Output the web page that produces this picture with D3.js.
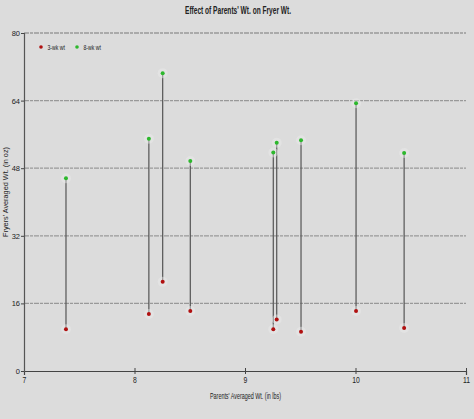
<!DOCTYPE html>
<html><head><meta charset="utf-8">
<script src="https://cdn.jsdelivr.net/npm/d3@7"></script>
<style>
html,body{margin:0;padding:0;background:#dcdcdc;}
svg{display:block;}
text{font-family:"Liberation Sans Narrow","Arial Narrow","Liberation Sans",sans-serif;fill:#222;}
</style></head>
<body>
<script>
const parentWt = [7.38, 8.13, 8.255, 8.505, 9.256, 9.287, 9.507, 10.005, 10.44];
const wk3 = [9.9, 13.5, 21.1, 14.2, 9.9, 12.2, 9.3, 14.2, 10.2];
const wk8 = [45.6, 55.0, 70.5, 49.7, 51.7, 54.0, 54.6, 63.4, 51.6];
const xTicks = [7, 8, 9, 10, 11];
const yTicks = [0, 16, 32, 48, 64, 80];
const seriesNames = ["3-wk wt", "8-wk wt"];
const seriesColors = ["#b01010", "#2db82d"];

const W = 474, H = 419;
const svg = d3.select("body").append("svg").attr("width", W).attr("height", H);
svg.append("rect").attr("width", W).attr("height", H).attr("fill", "#dcdcdc");

const x = d3.scaleLinear().domain([7, 11]).range([24, 466]);
const y = d3.scaleLinear().domain([0, 80]).range([371, 33]);

// gridlines
svg.append("g").selectAll("line").data(yTicks.filter(d => d > 0)).join("line")
  .attr("x1", x(7)).attr("x2", x(11))
  .attr("y1", d => y(d)).attr("y2", d => y(d))
  .attr("stroke", "#999").attr("stroke-width", 1.3).attr("stroke-dasharray", "5,1,3,1");

// axes
const xAxis = svg.append("g").attr("transform", `translate(0,${y(0)})`)
  .call(d3.axisBottom(x).tickValues(xTicks).tickSize(4).tickFormat(d3.format("d")));
xAxis.select(".domain").attr("stroke", "#444").attr("stroke-width", 1.2);
xAxis.selectAll(".tick line").attr("stroke", "#444").attr("y1", -3).attr("y2", 3);
xAxis.selectAll(".tick text").attr("font-size", 8.5).attr("dy", "0.35em").attr("y", 9)
  .attr("fill", "#333").attr("transform", "scale(0.8,1)")
  .style("font-family", '"Liberation Sans",sans-serif');

const yAxis = svg.append("g").attr("transform", `translate(${x(7)},0)`)
  .call(d3.axisLeft(y).tickValues(yTicks).tickSize(3).tickFormat(d3.format("d")));
yAxis.select(".domain").attr("stroke", "#555").attr("stroke-width", 1.2);
yAxis.selectAll(".tick line").attr("stroke", "#444");
yAxis.selectAll(".tick text").attr("font-size", 7.5).attr("x", -4).attr("fill", "#333")
  .style("font-family", '"Liberation Sans",sans-serif');

// stems
svg.append("g").selectAll("line").data(parentWt).join("line")
  .attr("x1", d => x(d)).attr("x2", d => x(d))
  .attr("y1", (d, i) => y(wk3[i])).attr("y2", (d, i) => y(wk8[i]))
  .attr("stroke", "#555").attr("stroke-width", 1.2);

// points
[wk3, wk8].forEach((s, k) => {
  const g = svg.append("g");
  g.selectAll("circle.halo").data(parentWt).join("circle").attr("class", "halo")
    .attr("cx", d => x(d)).attr("cy", (d, i) => y(s[i])).attr("r", 5)
    .attr("fill", "#ececec").attr("opacity", 0.45);
  g.selectAll("circle.pt").data(parentWt).join("circle").attr("class", "pt")
    .attr("cx", d => x(d)).attr("cy", (d, i) => y(s[i])).attr("r", 2)
    .attr("fill", seriesColors[k]);
});

// legend
const leg = svg.append("g").attr("transform", "translate(41,47)");
seriesNames.forEach((n, k) => {
  const g = leg.append("g").attr("transform", `translate(${k * 36},0)`);
  g.append("circle").attr("r", 1.8).attr("fill", seriesColors[k]);
  g.append("text").attr("x", 6.5).attr("dy", "0.35em").attr("font-size", 8)
    .attr("textLength", 17.5).attr("lengthAdjust", "spacingAndGlyphs").text(n);
});

// title
svg.append("text").attr("x", 238).attr("y", 14).attr("text-anchor", "middle")
  .attr("font-size", 11).attr("font-weight", "bold")
  .attr("textLength", 106).attr("lengthAdjust", "spacingAndGlyphs")
  .text("Effect of Parents' Wt. on Fryer Wt.");

// axis titles
svg.append("text").attr("x", 245.5).attr("y", 399).attr("text-anchor", "middle")
  .attr("font-size", 9).attr("fill", "#333")
  .attr("textLength", 71).attr("lengthAdjust", "spacingAndGlyphs")
  .text("Parents' Averaged Wt. (in lbs)");
svg.append("text").attr("transform", "translate(8,192) rotate(-90)").attr("text-anchor", "middle")
  .attr("font-size", 7.5).attr("fill", "#444")
  .attr("textLength", 90).attr("lengthAdjust", "spacingAndGlyphs")
  .style("font-family", '"Liberation Sans","DejaVu Sans",sans-serif')
  .text("Fryers' Averaged Wt.  (in oz)");
</script>
</body></html>
